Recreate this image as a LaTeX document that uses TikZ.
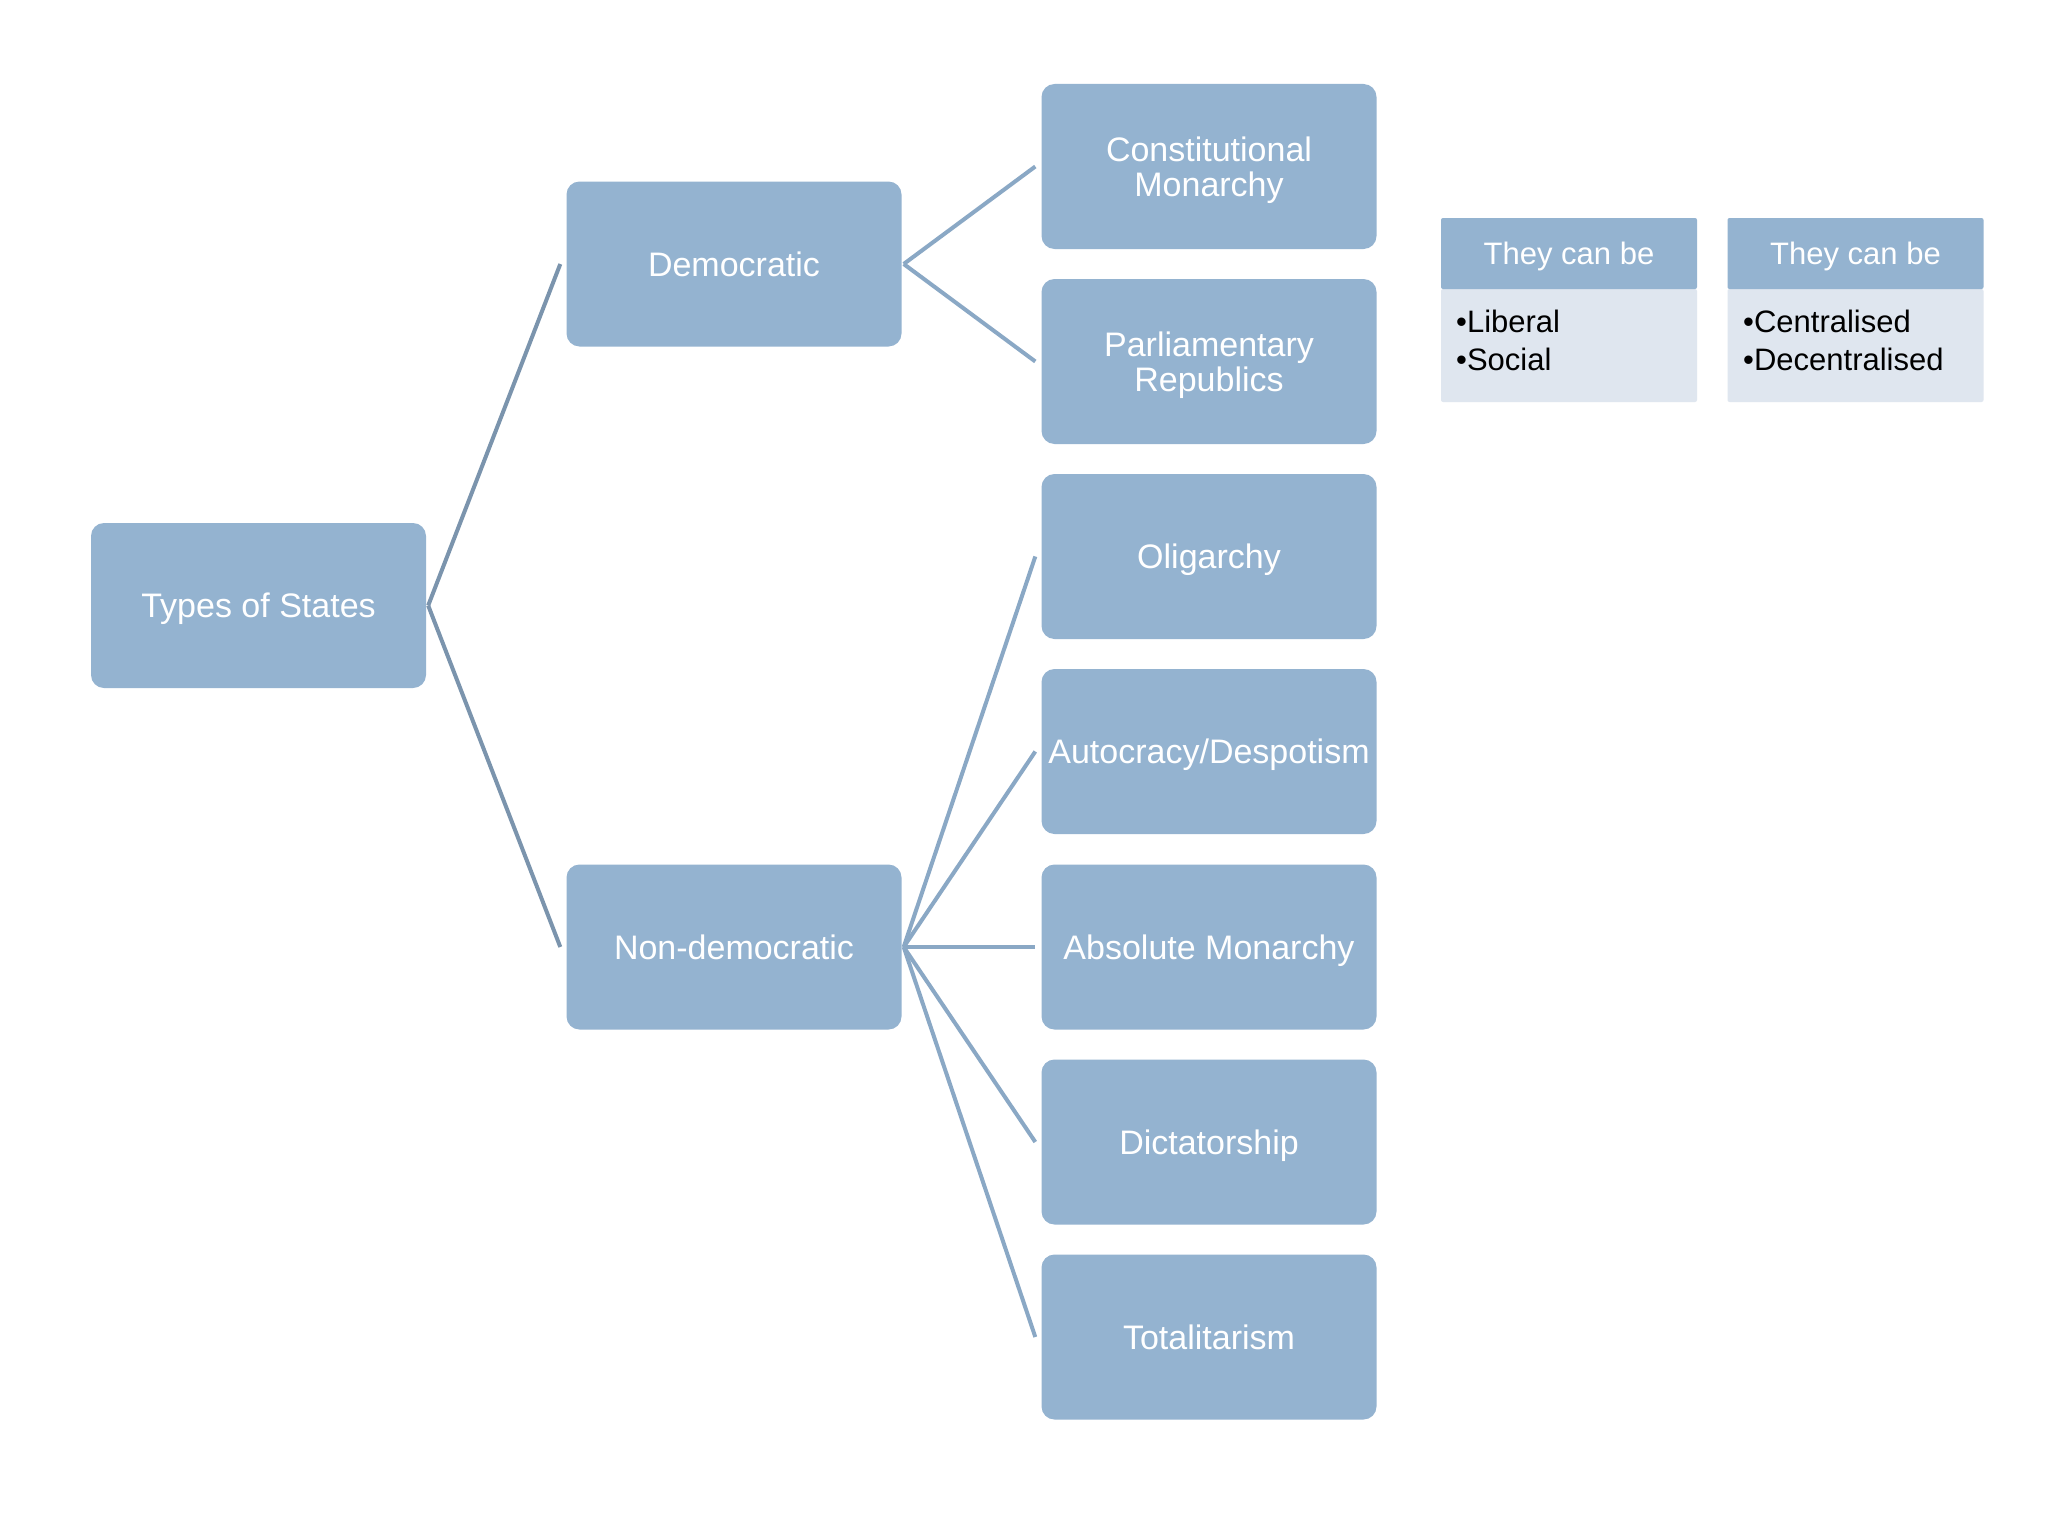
\documentclass[tikz,border=0pt]{standalone}
\usepackage{fontspec}
\setmainfont{Liberation Sans}
\definecolor{boxblue}{HTML}{94B3D0}
\definecolor{lineA}{HTML}{7B94AD}
\definecolor{lineB}{HTML}{8AA8C5}
\definecolor{bodyblue}{HTML}{DFE6EF}
\begin{document}
\begin{tikzpicture}[x=1pt,y=-1pt,
  mainbox/.style={rectangle, rounded corners=13pt, fill=boxblue, text=white,
    minimum width=335pt, minimum height=165pt, inner sep=0pt, align=center,
    text depth=0pt, font=\fontsize{34}{35.5}\selectfont},
  hdrbox/.style={rectangle, rounded corners=2pt, fill=boxblue, text=white,
    minimum width=256pt, minimum height=71pt, inner sep=0pt, text depth=0pt,
    font=\fontsize{31}{34}\selectfont},
  bodybox/.style={rectangle, rounded corners=2pt, fill=bodyblue,
    minimum width=256pt, minimum height=113pt, inner sep=0pt},
  bodytext/.style={anchor=base west, inner sep=0pt, text=black,
    font=\fontsize{31}{34}\selectfont},
  linkA/.style={draw=lineA, line width=4pt},
  linkB/.style={draw=lineB, line width=4pt}]
\useasboundingbox (0,0) rectangle (2048,1536);
\fill[white] (0,0) rectangle (2048,1536);

\node[mainbox] (types) at (258.5,605.5) {Types of States};
\node[mainbox] (dem) at (734,264) {Democratic};
\node[mainbox] (nondem) at (734,947) {Non-democratic};

\node[mainbox] (cm) at (1209,166.5) {Constitutional\\Monarchy};
\node[mainbox] (pr) at (1209,361.5) {Parliamentary\\Republics};
\node[mainbox] (ol) at (1209,556.5) {Oligarchy};
\node[mainbox] (au) at (1209,751.5) {Autocracy/Despotism};
\node[mainbox] (ab) at (1209,947) {Absolute Monarchy};
\node[mainbox] (di) at (1209,1142) {Dictatorship};
\node[mainbox] (to) at (1209,1337) {Totalitarism};

\draw[linkA] ([xshift=2pt]types.east) -- ([xshift=-6pt]dem.west);
\draw[linkA] ([xshift=2pt]types.east) -- ([xshift=-6pt]nondem.west);

\foreach \c in {cm,pr}
  \draw[linkB] ([xshift=2pt]dem.east) -- ([xshift=-6pt]\c.west);
\foreach \c in {ol,au,ab,di,to}
  \draw[linkB] ([xshift=2pt]nondem.east) -- ([xshift=-6pt]\c.west);

\node[bodybox] (b1) at (1569,345.5) {};
\node[hdrbox] (h1) at (1569,253.5) {They can be};
\node[bodytext] (l1) at (1456,332) {•Liberal};
\node[bodytext] (l2) at (1456,370) {•Social};

\node[bodybox] (b2) at (1855.5,345.5) {};
\node[hdrbox] (h2) at (1855.5,253.5) {They can be};
\node[bodytext] (c1) at (1743,332) {•Centralised};
\node[bodytext] (c2) at (1743,370) {•Decentralised};
\end{tikzpicture}
\end{document}
